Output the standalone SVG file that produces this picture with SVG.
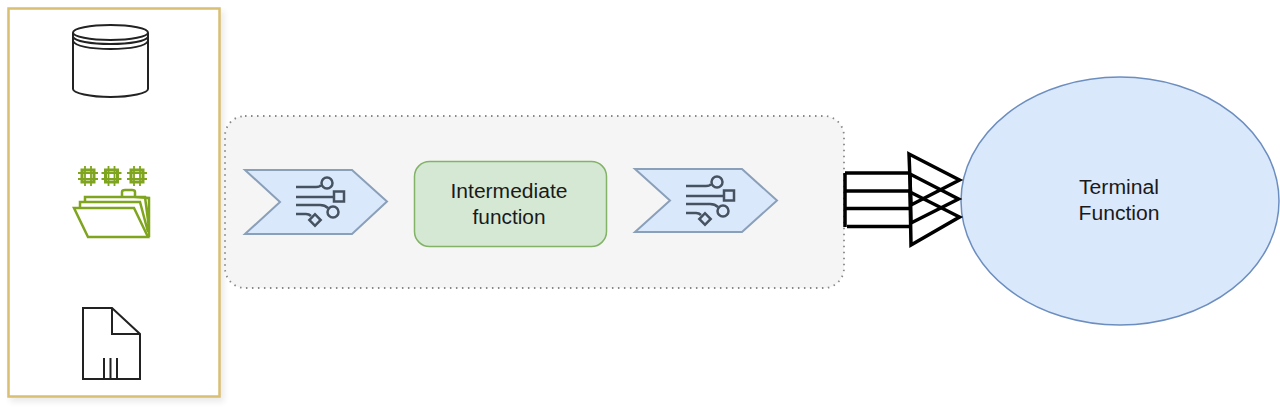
<svg xmlns="http://www.w3.org/2000/svg" width="1280" height="410" viewBox="0 0 1280 410">
<defs>
<filter id="soft" x="-10%" y="-10%" width="120%" height="120%"><feGaussianBlur stdDeviation="3"/></filter>
<g id="flow">
<path class="ic" d="M0 14H20Q24 14 25 12"/><circle class="ic" cx="31" cy="10" r="5.500"/>
<path class="ic" d="M0 24H38"/><rect class="ic" x="38" y="18.500" width="10" height="10"/>
<path class="ic" d="M0 32H24Q29 32 32 35"/><circle class="ic" cx="37" cy="39" r="5.500"/>
<path class="ic" d="M0 41H10Q13 41 15 43"/><rect class="ic" x="15" y="43" width="8" height="8" transform="rotate(45 19 47)"/>
</g>
</defs>
<style>
.lbl{font-family:"Liberation Sans",Arial,sans-serif;font-size:20px;fill:#1a1a1a;text-anchor:middle}
.ic{fill:none;stroke:#46525f;stroke-width:2.500}
.blk{fill:none;stroke:#222;stroke-width:2}
.chev{fill:#dae8fc;stroke:#8a9fb8;stroke-width:2}
.arr{fill:none;stroke:#000;stroke-width:3.500;stroke-linejoin:miter}
</style>
<rect width="1280" height="410" fill="#fff"/>
<g id="source-panel">
<rect x="10" y="11" width="214" height="391" fill="#000" opacity="0.08" filter="url(#soft)"/>
<rect x="8.500" y="8.500" width="211" height="388" fill="#fff" stroke="#d9bf72" stroke-width="2.500"/>
</g>
<g id="database">
<path class="blk" d="M73 33V89C73 93 90 97 110.500 97S148 93 148 89V33"/>
<ellipse class="blk" cx="110.500" cy="32.500" rx="37.500" ry="7.500"/>
<path class="blk" d="M73 37C75 41 90 44 110.500 44S146 41 148 37"/>
<path class="blk" d="M73 41C75 46 90 49 110.500 49S146 46 148 41"/>
</g>
<g id="folder" fill="none" stroke="#7fa51f" stroke-width="2.500">
<rect x="82" y="170" width="12" height="12" stroke-width="3"/><rect x="105.500" y="170" width="12" height="12" stroke-width="3"/><rect x="131" y="170" width="12" height="12" stroke-width="3"/>
<path d="M85 166V186M91 166V186M78 173H98M78 179H98M108.500 166V186M114.500 166V186M101.500 173H121.500M101.500 179H121.500M134 166V186M140 166V186M127 173H147M127 179H147" stroke-width="1.800"/>
<path d="M74 208H134L148 237H88Z"/>
<path d="M80 208V202H140L148 232M85 202V197H145L149 228M122 197V192Q122 190 125 190H132Q135 190 135 192V197L149 198V237"/>
</g>
<g id="file">
<path class="blk" d="M83 308H112L140 334V379H83Z"/>
<path class="blk" d="M112 308V334H140"/>
<path class="blk" d="M104 358V379M110.500 358V379M117 358V379"/>
</g>
<g id="process-group">
<rect x="225" y="116" width="619" height="172" rx="20" fill="#f5f5f5" stroke="#888" stroke-width="1.800" stroke-dasharray="1.500 4.500"/>
</g>
<g id="stream-1">
<path class="chev" d="M245 170H352L387 201.500L352 234H245L280 202Z"/>
<use href="#flow" x="296" y="173"/>
</g>
<g id="intermediate">
<rect x="414.500" y="161.500" width="192" height="85" rx="15" fill="#d5e8d4" stroke="#82b366" stroke-width="1.500"/>
<text class="lbl" x="509" y="197.500" textLength="117" lengthAdjust="spacingAndGlyphs">Intermediate</text>
<text class="lbl" x="509" y="223.500" textLength="73" lengthAdjust="spacingAndGlyphs">function</text>
</g>
<g id="stream-2">
<path class="chev" d="M635 169H742L777 200.500L742 232H635L670 200.500Z"/>
<use href="#flow" x="686" y="172"/>
</g>
<g id="terminal">
<ellipse cx="1120" cy="201" rx="159" ry="124" fill="#dae8fc" stroke="#6c8ebf" stroke-width="1.500"/>
<text class="lbl" x="1119" y="193.500" textLength="80" lengthAdjust="spacingAndGlyphs">Terminal</text>
<text class="lbl" x="1119" y="219.500" textLength="81" lengthAdjust="spacingAndGlyphs">Function</text>
</g>
<g id="connectors">
<path class="arr" d="M845 173V227M845 173H910M846 191H910M846 208.500H910M847 226.500H911"/>
<path class="arr" d="M909 154L959.500 180L911 205Z"/>
<path class="arr" d="M910 174L958.500 199L911 223Z"/>
<path class="arr" d="M910 192L959.500 217L911 245Z"/>
</g>
</svg>
